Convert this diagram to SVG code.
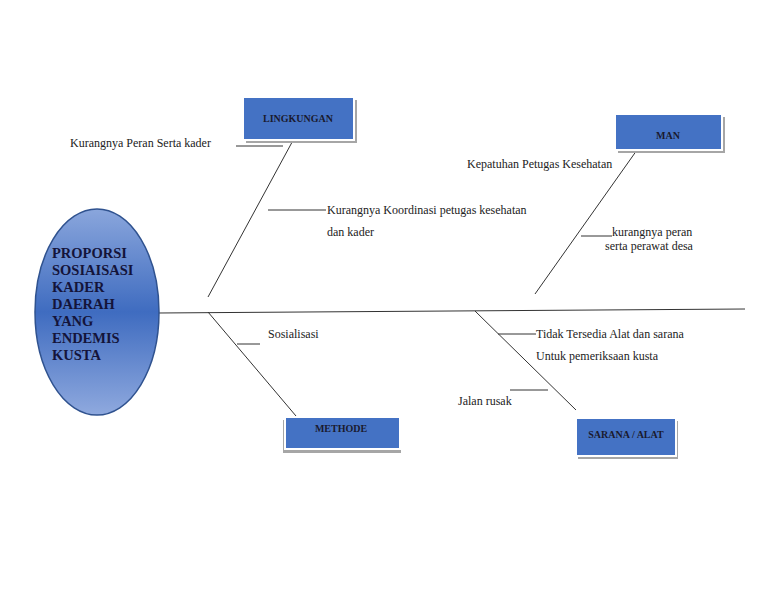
<svg xmlns="http://www.w3.org/2000/svg" width="768" height="594" viewBox="0 0 768 594">
<style>
.box{fill:#4472c4;stroke:#fff;stroke-width:2}
.sh{fill:#a6a6a6}
.bt{font-family:"Liberation Serif",serif;font-size:10px;font-weight:bold;fill:#1a1a2e}
.t{font-family:"Liberation Serif",serif;font-size:12px;fill:#222}
.l{stroke:#333;stroke-width:1;fill:none}
.e{font-family:"Liberation Serif",serif;font-size:14.5px;font-weight:bold;fill:#14143a}
</style>
<defs>
<linearGradient id="g" x1="0" y1="0" x2="0" y2="1">
<stop offset="0" stop-color="#8aa6dc"/>
<stop offset="0.5" stop-color="#3f6cc0"/>
<stop offset="1" stop-color="#8fa9de"/>
</linearGradient>
</defs>
<rect width="768" height="594" fill="#fff"/>
<g id="connectors">
<line class="l" x1="158" y1="313" x2="745" y2="309"/>
<line class="l" x1="208" y1="297" x2="303" y2="122"/>
<line class="l" x1="535" y1="294" x2="637" y2="150"/>
<line class="l" x1="208" y1="312" x2="296" y2="416"/>
<line class="l" x1="475" y1="311" x2="576" y2="410"/>
<line class="l" x1="236" y1="146" x2="283" y2="146"/>
<line class="l" x1="268" y1="210" x2="326" y2="210"/>
<line class="l" x1="581" y1="236" x2="612" y2="236"/>
<line class="l" x1="237" y1="344" x2="260" y2="344"/>
<line class="l" x1="498" y1="334" x2="536" y2="334"/>
<line class="l" x1="510" y1="390" x2="548" y2="390"/>
</g>
<g id="effect">
<ellipse cx="97" cy="312" rx="62" ry="103" fill="url(#g)" stroke="#2f528f" stroke-width="1.5"/>
<text class="e" x="52" y="258">PROPORSI</text>
<text class="e" x="52" y="275">SOSIAISASI</text>
<text class="e" x="52" y="292">KADER</text>
<text class="e" x="52" y="309">DAERAH</text>
<text class="e" x="52" y="326">YANG</text>
<text class="e" x="52" y="343">ENDEMIS</text>
<text class="e" x="52" y="360">KUSTA</text>
</g>
<g id="lingkungan">
<rect class="sh" x="246" y="100" width="111" height="43"/>
<rect class="box" x="243" y="97" width="111" height="43"/>
<text class="bt" x="298" y="122" text-anchor="middle">LINGKUNGAN</text>
</g>
<g id="man">
<rect class="sh" x="618" y="117" width="107" height="36"/>
<rect class="box" x="615" y="114" width="107" height="36"/>
<text class="bt" x="668" y="139" text-anchor="middle">MAN</text>
</g>
<g id="methode">
<rect class="sh" x="283" y="420" width="118" height="33"/>
<rect class="box" x="285" y="417" width="115" height="32"/>
<text class="bt" x="341" y="432" text-anchor="middle">METHODE</text>
</g>
<g id="sarana">
<rect class="sh" x="578" y="421" width="100" height="38"/>
<rect class="box" x="576" y="418" width="100" height="38"/>
<text class="bt" x="626" y="438" text-anchor="middle">SARANA / ALAT</text>
</g>
<g id="labels">
<text class="t" x="70" y="147">Kurangnya Peran Serta kader</text>
<text class="t" x="327" y="214">Kurangnya Koordinasi petugas kesehatan</text>
<text class="t" x="327" y="236">dan kader</text>
<text class="t" x="467" y="168">Kepatuhan Petugas Kesehatan</text>
<text class="t" x="612" y="236">kurangnya peran</text>
<text class="t" x="605" y="250">serta perawat desa</text>
<text class="t" x="268" y="338">Sosialisasi</text>
<text class="t" x="536" y="338">Tidak Tersedia Alat dan sarana</text>
<text class="t" x="536" y="360">Untuk pemeriksaan kusta</text>
<text class="t" x="458" y="405">Jalan rusak</text>
</g>
</svg>
